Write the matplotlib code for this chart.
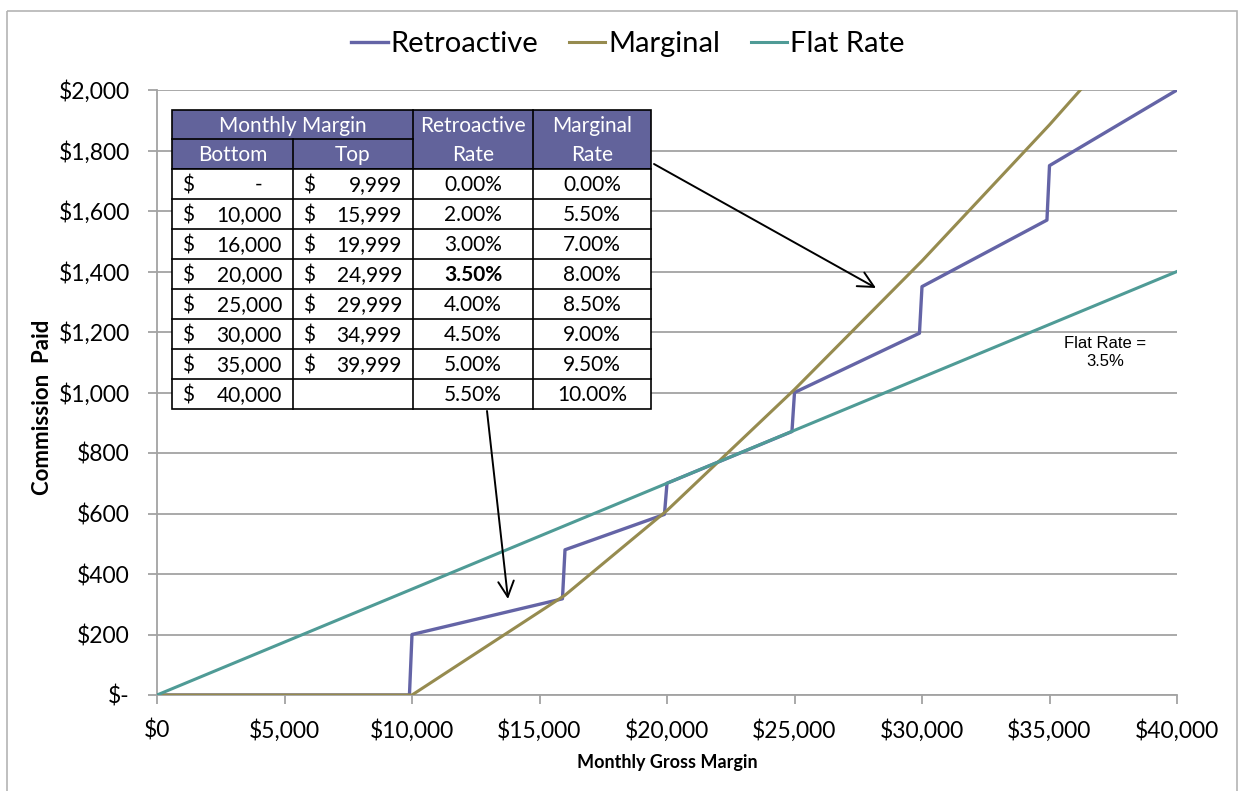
import matplotlib
matplotlib.use('Agg')
import matplotlib.pyplot as plt
from matplotlib.patches import Rectangle
from matplotlib.ticker import FuncFormatter, MultipleLocator

# breakpoints of the three commission curves
retro_x = [0, 9900, 10000, 15900, 16000, 19900, 20000, 24900, 25000, 29900, 30000, 34900, 35000, 40000]
retro_y = [0, 0, 200, 318, 480, 597, 700, 871, 1000, 1196, 1350, 1570, 1750, 2000]
marg_x = [0, 10000, 16000, 20000, 25000, 30000, 35000, 40000]
marg_y = [0, 0, 330, 610, 1010, 1435, 1885, 2360]
flat_x = [0, 40000]
flat_y = [0, 1400]

# rate table
bottoms = ['-', '10,000', '16,000', '20,000', '25,000', '30,000', '35,000', '40,000']
tops = ['9,999', '15,999', '19,999', '24,999', '29,999', '34,999', '39,999', '']
retro_rates = ['0.00%', '2.00%', '3.00%', '3.50%', '4.00%', '4.50%', '5.00%', '5.50%']
marg_rates = ['0.00%', '5.50%', '7.00%', '8.00%', '8.50%', '9.00%', '9.50%', '10.00%']

C_RETRO = '#6464A6'
C_MARG = '#968B4F'
C_FLAT = '#4F9B96'
C_HEAD = '#62639B'
GRID = '#A3A3A3'
FONT = 'Lato'

W, H = 1248, 791
fig = plt.figure(figsize=(W / 100, H / 100), dpi=100)
ax = fig.add_axes([157 / W, 1 - 695 / H, (1177 - 157) / W, (695 - 90) / H])

ax.plot(retro_x, retro_y, color=C_RETRO, lw=2.4, label='Retroactive', zorder=3)
ax.plot(marg_x, marg_y, color=C_MARG, lw=2.2, label='Marginal', zorder=3)
ax.plot(flat_x, flat_y, color=C_FLAT, lw=2.2, label='Flat Rate', zorder=3)

ax.set_xlim(0, 40000)
ax.set_ylim(0, 2000)
ax.xaxis.set_major_locator(MultipleLocator(5000))
ax.yaxis.set_major_locator(MultipleLocator(200))
ax.xaxis.set_major_formatter(FuncFormatter(lambda v, p: '${:,.0f}'.format(v)))
ax.yaxis.set_major_formatter(FuncFormatter(lambda v, p: '$-' if v == 0 else '${:,.0f}'.format(v)))
ax.grid(axis='y', color=GRID, lw=1.3)
ax.set_axisbelow(True)
for s in ['top', 'right']:
    ax.spines[s].set_visible(False)
for s in ['left', 'bottom']:
    ax.spines[s].set_color(GRID)
    ax.spines[s].set_linewidth(1.3)
ax.tick_params(axis='both', colors=GRID, width=1.3, length=6.5, direction='out')
ax.tick_params(axis='y', pad=13, labelcolor='black', labelsize=16.5)
ax.tick_params(axis='x', pad=11, labelcolor='black', labelsize=16.5)
for lab in ax.get_xticklabels() + ax.get_yticklabels():
    lab.set_family(FONT)

ax.set_ylabel('Commission  Paid', fontsize=16, fontweight='bold', family=FONT)
ax.yaxis.set_label_coords(-0.102, 0.476)
ax.set_xlabel('Monthly Gross Margin', fontsize=13, fontweight='bold', family=FONT, labelpad=9)

fig.text(1105 / W, 1 - 352 / H, 'Flat Rate =\n3.5%', ha='center', va='center',
         fontsize=12, family='Liberation Sans', linespacing=1.25)

fig.legend(loc='center', bbox_to_anchor=(628 / W, 1 - 44 / H), ncol=3, frameon=False,
           prop={'family': FONT, 'size': 21}, handlelength=1.25, handletextpad=0.1,
           columnspacing=1.05)

# overlay in pixel coordinates for the table, arrows and border
ov = fig.add_axes([0, 0, 1, 1], zorder=5)
ov.set_xlim(0, W)
ov.set_ylim(H, 0)
ov.axis('off')
ov.patch.set_alpha(0)

ov.add_patch(Rectangle((7, 11), 1230, 800, fill=False, ec='#B4B4B4', lw=1.2, clip_on=False))

cols = [172, 293, 413, 533, 651]
rows = [110, 139, 169, 199, 229, 259, 289, 319, 349, 379, 409]
tsize = 15

ov.add_patch(Rectangle((cols[0], rows[0]), cols[-1] - cols[0], rows[2] - rows[0],
                       fc=C_HEAD, ec='black', lw=1.2))
ov.add_patch(Rectangle((cols[0], rows[2]), cols[-1] - cols[0], rows[-1] - rows[2],
                       fc='white', ec='black', lw=1.2))
for c in cols[1:-1]:
    top = rows[1] if c == cols[1] else rows[0]
    ov.plot([c, c], [top, rows[-1]], color='black', lw=1.2)
ov.plot([cols[0], cols[2]], [rows[1], rows[1]], color='black', lw=1.2)
for r in rows[3:-1]:
    ov.plot([cols[0], cols[-1]], [r, r], color='black', lw=1.2)

def hdr(x, y, s):
    ov.text(x, y, s, ha='center', va='center', color='white', fontsize=tsize, family=FONT)

hdr((cols[0] + cols[2]) / 2, (rows[0] + rows[1]) / 2 + 1, 'Monthly Margin')
hdr((cols[0] + cols[1]) / 2, (rows[1] + rows[2]) / 2 + 1, 'Bottom')
hdr((cols[1] + cols[2]) / 2, (rows[1] + rows[2]) / 2 + 1, 'Top')
hdr((cols[2] + cols[3]) / 2, (rows[0] + rows[1]) / 2 + 1, 'Retroactive')
hdr((cols[2] + cols[3]) / 2, (rows[1] + rows[2]) / 2 + 1, 'Rate')
hdr((cols[3] + cols[4]) / 2, (rows[0] + rows[1]) / 2 + 1, 'Marginal')
hdr((cols[3] + cols[4]) / 2, (rows[1] + rows[2]) / 2 + 1, 'Rate')

for i in range(len(bottoms)):
    yc = (rows[i + 2] + rows[i + 3]) / 2 + 1
    ov.text(182, yc, '$', ha='left', va='center', fontsize=tsize, family=FONT)
    ov.text(282 if bottoms[i] != '-' else 262, yc, bottoms[i], ha='right', va='center',
            fontsize=tsize, family=FONT)
    if tops[i]:
        ov.text(303, yc, '$', ha='left', va='center', fontsize=tsize, family=FONT)
        ov.text(402, yc, tops[i], ha='right', va='center', fontsize=tsize, family=FONT)
    ov.text((cols[2] + cols[3]) / 2, yc, retro_rates[i], ha='center', va='center',
            fontsize=tsize, family=FONT, fontweight='bold' if retro_rates[i] == '3.50%' else 'normal')
    ov.text((cols[3] + cols[4]) / 2, yc, marg_rates[i], ha='center', va='center',
            fontsize=tsize, family=FONT)

arrow = dict(arrowstyle='->', color='black', lw=1.4, mutation_scale=28, shrinkA=0, shrinkB=0)
ov.annotate('', xy=(876, 288), xytext=(654, 164), arrowprops=arrow)
ov.annotate('', xy=(508, 599), xytext=(487, 411), arrowprops=arrow)

fig.savefig('out.png', dpi=100)
